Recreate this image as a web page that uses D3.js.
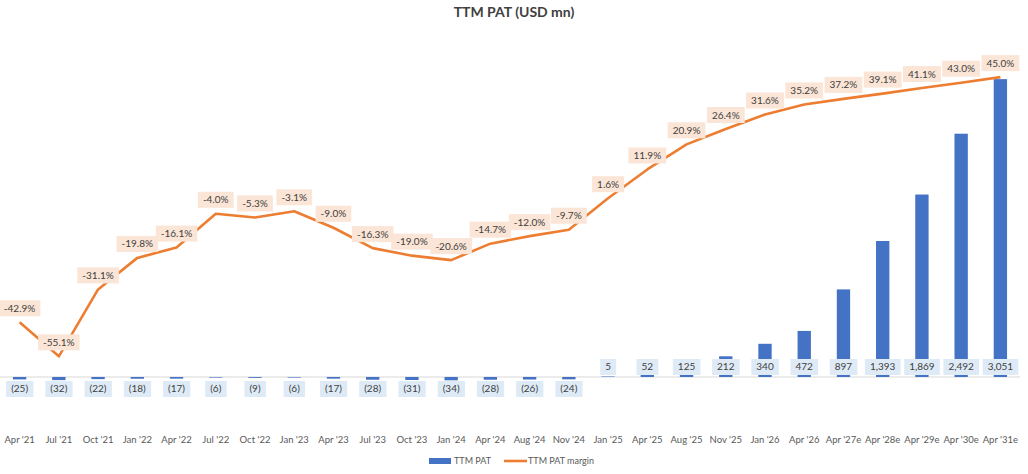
<!DOCTYPE html>
<html><head><meta charset="utf-8">
<script src="https://cdn.jsdelivr.net/npm/d3@7"></script>
<style>body{margin:0;background:#fff;} text{font-family:Lato,"Open Sans",sans-serif;}</style>
</head><body>
<svg id="c" width="1028" height="474"></svg>
<script>
const categories = ["Apr '21","Jul '21","Oct '21","Jan '22","Apr '22","Jul '22","Oct '22","Jan '23","Apr '23","Jul '23","Oct '23","Jan '24","Apr '24","Aug '24","Nov '24","Jan '25","Apr '25","Aug '25","Nov '25","Jan '26","Apr '26","Apr '27e","Apr '28e","Apr '29e","Apr '30e","Apr '31e"];
const patValues = [-25,-32,-22,-18,-17,-6,-9,-6,-17,-28,-31,-34,-28,-26,-24,5,52,125,212,340,472,897,1393,1869,2492,3051];
const marginValues = [-42.9,-55.1,-31.1,-19.8,-16.1,-4.0,-5.3,-3.1,-9.0,-16.3,-19.0,-20.6,-14.7,-12.0,-9.7,1.6,11.9,20.9,26.4,31.6,35.2,37.2,39.1,41.1,43.0,45.0];
const seriesNames = ["TTM PAT","TTM PAT margin"];
const primaryDomain = [-500, 3500];
const secondaryDomain = [-80, 60];

const svg = d3.select("#c");
const W = 1028, H = 474;
const plot = {left: 0, right: 1020, top: 35.3, bottom: 425.8};
const blue = "#4472C4", orange = "#ED7D31";

const x = d3.scalePoint().domain(categories).range([plot.left, plot.right]).padding(0.5);
const step = x.step();
const bw = step * 0.34;
const y = d3.scaleLinear().domain(primaryDomain).range([plot.bottom, plot.top]);
const y2 = d3.scaleLinear().domain(secondaryDomain).range([plot.bottom, plot.top]);

// title
svg.append("text").attr("x", 514).attr("y", 17).attr("text-anchor","middle")
  .attr("font-size", 14).attr("font-weight","bold").attr("fill","#404040").text("TTM PAT (USD mn)");

// baseline
svg.append("line").attr("x1", plot.left).attr("x2", plot.right).attr("y1", y(0)).attr("y2", y(0))
  .attr("stroke", "#D9D9D9").attr("stroke-width", 1);

// bars
const data = categories.map((c,i)=>({c, v: patValues[i], m: marginValues[i]}));
svg.append("g").selectAll("rect").data(data).join("rect")
  .attr("x", d => x(d.c) - bw/2)
  .attr("width", bw)
  .attr("y", d => Math.min(y(d.v), y(0)))
  .attr("height", d => Math.abs(y(d.v) - y(0)))
  .attr("fill", blue);

// line
const line = d3.line().x(d => x(d.c)).y(d => y2(d.m));
svg.append("path").datum(data).attr("d", line).attr("fill","none")
  .attr("stroke", orange).attr("stroke-width", 2.6).attr("stroke-linejoin","round");

// label helper
function label(g, cx, cy, txt, fill) {
  const t = g.append("text").attr("x", cx).attr("y", cy).attr("dy","0.35em")
    .attr("text-anchor","middle").attr("font-size", 10).attr("fill","#404040").text(txt);
  const bb = t.node().getBBox();
  g.insert("rect", "text").attr("x", bb.x - 5).attr("y", cy - 8).attr("width", bb.width + 10).attr("height", 16)
    .attr("fill", fill);
}
const fmt = d3.format(",");
const barLabels = svg.append("g");
data.forEach(d => {
  const g = barLabels.append("g");
  const txt = d.v < 0 ? "(" + fmt(-d.v) + ")" : fmt(d.v);
  const cy = d.v < 0 ? y(0) + 12 : y(0) - 10;
  label(g, x(d.c), cy, txt, "#DEEBF7");
});
const lineLabels = svg.append("g");
data.forEach(d => {
  const g = lineLabels.append("g");
  label(g, x(d.c), y2(d.m) - 14, d.m.toFixed(1) + "%", "#FBE5D6");
});

// x axis labels
svg.append("g").selectAll("text").data(categories).join("text")
  .attr("x", d => x(d)).attr("y", 440).attr("dy","0.35em").attr("text-anchor","middle")
  .attr("font-size", 9.5).attr("fill","#595959").text(d => d);

// legend
const lg = svg.append("g").attr("transform","translate(0,461)");
lg.append("rect").attr("x", 429).attr("y", -3).attr("width", 22).attr("height", 6).attr("fill", blue);
lg.append("text").attr("x", 454).attr("y", 0).attr("dy","0.35em").attr("font-size", 9).attr("fill","#595959").text(seriesNames[0]);
lg.append("line").attr("x1", 504).attr("x2", 527).attr("y1", 0).attr("y2", 0).attr("stroke", orange).attr("stroke-width", 2.6);
lg.append("text").attr("x", 528).attr("y", 0).attr("dy","0.35em").attr("font-size", 9).attr("fill","#595959").text(seriesNames[1]);
</script>
</body></html>
